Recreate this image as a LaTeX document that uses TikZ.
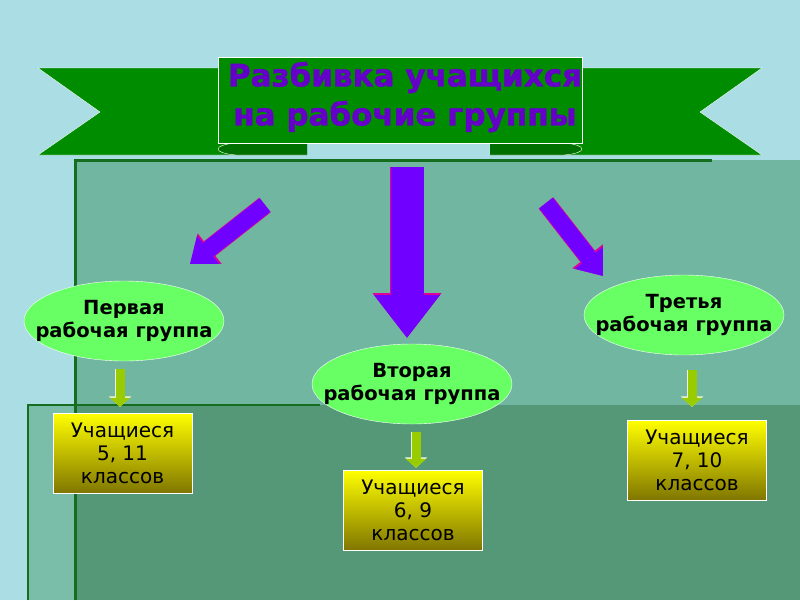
\documentclass[tikz,border=0pt]{standalone}
\usepackage{fontspec}
\setmainfont{DejaVu Sans}
\newfontfamily\titlefont{DejaVu Sans}[BoldFeatures={FakeBold=1.2}]
\usepackage{tikz}
\usetikzlibrary{positioning,arrows.meta,shapes}
\definecolor{bgcyan}{RGB}{170,222,228}
\definecolor{panelup}{RGB}{112,182,160}
\definecolor{paneldown}{RGB}{84,152,120}
\definecolor{panelside}{RGB}{122,190,170}
\definecolor{edgegreen}{RGB}{20,110,30}
\definecolor{bannergreen}{RGB}{0,140,0}
\definecolor{folddark}{RGB}{0,112,0}
\definecolor{titlepurple}{RGB}{100,0,200}
\definecolor{arrowviolet}{RGB}{112,0,255}
\definecolor{arrowpink}{RGB}{225,0,150}
\definecolor{grpgreen}{RGB}{104,255,100}
\definecolor{limearrow}{RGB}{153,204,0}
\definecolor{boxtop}{RGB}{255,255,0}
\definecolor{boxbottom}{RGB}{128,118,0}

\begin{document}
\begin{tikzpicture}[
  group/.style={ellipse, fill=grpgreen, draw=white, thin, minimum width=200pt, minimum height=80pt, inner xsep=-25pt, inner ysep=0pt, align=center, font=\fontsize{19.5}{23}\selectfont\bfseries},
  pupils/.style={rectangle, top color=boxtop, bottom color=boxbottom, draw=white, thin, minimum width=139pt, minimum height=80pt, inner sep=0pt, align=center, font=\fontsize{20}{23}\selectfont},
  ribbon/.style={fill=bannergreen, draw=white, thin},
  fatarrow/.style={line width=17pt, draw=arrowviolet, -{Triangle[length=23pt,width=34pt]}, preaction={draw=arrowpink, line width=18.5pt, -{Triangle[length=25pt,width=37pt]}}},
  downarrow/.style={line width=33pt, draw=arrowviolet, -{Triangle[length=43pt,width=63pt]}, preaction={draw=arrowpink, line width=34.5pt, -{Triangle[length=45pt,width=66pt]}}},
  smallarrow/.style={line width=9pt, draw=limearrow, -{Triangle[length=9pt,width=20pt]}, preaction={draw=white!85!limearrow, line width=10.5pt, -{Triangle[length=10.5pt,width=22pt]}}}]
\useasboundingbox (0pt,0pt) rectangle (800pt,-600pt);
% background and panels
\fill[bgcyan] (0pt,0pt) rectangle (800pt,-600pt);
\fill[panelup] (75.0pt,-160.0pt) rectangle (800.0pt,-405.0pt);
\fill[panelside] (28.0pt,-405.0pt) rectangle (75.0pt,-600.0pt);
\fill[paneldown] (75.0pt,-405.0pt) rectangle (800.0pt,-600.0pt);
\draw[edgegreen, line width=3pt] (75.0pt,-600.0pt) -- (75.0pt,-160.0pt) -- (712.0pt,-160.0pt);
\draw[edgegreen, line width=2.5pt] (28.0pt,-600.0pt) -- (28.0pt,-405.0pt) -- (320.0pt,-405.0pt);
% banner
\draw[ribbon] (38.0pt,-68.0pt) -- (307.0pt,-68.0pt) -- (307.0pt,-155.0pt) -- (38.0pt,-155.0pt) -- (100.0pt,-112.0pt) -- cycle;
\draw[ribbon] (762.0pt,-68.0pt) -- (490.0pt,-68.0pt) -- (490.0pt,-155.0pt) -- (762.0pt,-155.0pt) -- (700.0pt,-112.0pt) -- cycle;
\draw[ribbon, fill=folddark] (307.0pt,-143.0pt) -- (236.0pt,-143.0pt) .. controls (212.0pt,-145.0pt) and (212.0pt,-153.0pt) .. (236.0pt,-155.0pt) -- (307.0pt,-155.0pt);
\draw[ribbon, fill=folddark] (490.0pt,-143.0pt) -- (564.0pt,-143.0pt) .. controls (588.0pt,-145.0pt) and (588.0pt,-153.0pt) .. (564.0pt,-155.0pt) -- (490.0pt,-155.0pt);
\draw[ribbon] (218.0pt,-57.0pt) rectangle (582.0pt,-143.0pt);
\draw (405.0pt,-97.0pt)node[align=center, text=titlepurple, font=\titlefont\fontsize{31}{39}\selectfont\bfseries](title){Разбивка учащихся\\ на рабочие группы};
% groups
\draw (124.0pt,-321.0pt)node[group](g1){Первая\\рабочая группа};
\draw (412.0pt,-384.0pt)node[group](g2){Вторая\\рабочая группа};
\draw (684.0pt,-315.0pt)node[group](g3){Третья\\рабочая группа};
\draw (122.5pt,-453.0pt)node[pupils](s1){Учащиеся\\5, 11\\классов};
\draw (413.0pt,-510.0pt)node[pupils](s2){Учащиеся\\6, 9\\классов};
\draw (697.0pt,-460.0pt)node[pupils](s3){Учащиеся\\7, 10\\классов};
% arrows
\coordinate (l0) at (265.0pt,-205.0pt);
\coordinate (l1) at (190.0pt,-264.0pt);
\coordinate (m0) at (407.0pt,-167.0pt);
\coordinate (m1) at (407.0pt,-338.0pt);
\coordinate (r0) at (546.0pt,-203.0pt);
\coordinate (r1) at (603.0pt,-276.0pt);
\coordinate (x1) at (120.0pt,0pt);
\coordinate (x2) at (416.0pt,0pt);
\coordinate (x3) at (692.0pt,0pt);
\path[fatarrow] (l0) -- (l1);
\path[downarrow] (m0) -- (m1);
\path[fatarrow] (r0) -- (r1);
\path[smallarrow, shorten <=8pt, shorten >=6pt] (g1.south -| x1) -- (s1.north -| x1);
\path[smallarrow, shorten <=8pt, shorten >=2pt] (g2.south -| x2) -- (s2.north -| x2);
\path[smallarrow, shorten <=15pt, shorten >=13pt] (g3.south -| x3) -- (s3.north -| x3);
\end{tikzpicture}
\end{document}
